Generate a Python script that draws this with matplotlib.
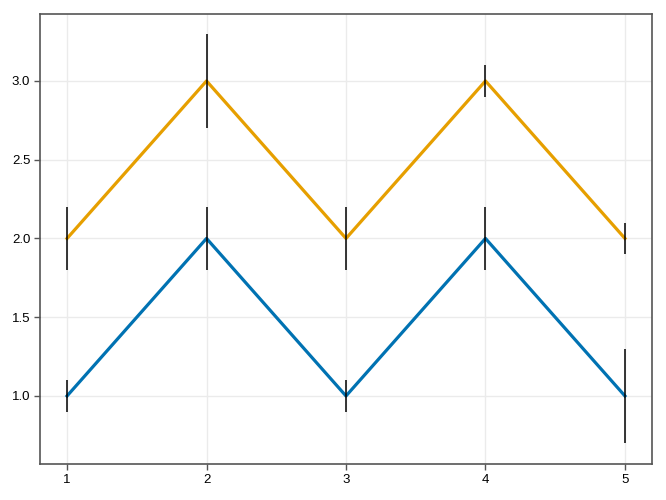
import matplotlib
matplotlib.use("Agg")
import matplotlib.pyplot as plt

x = [1, 2, 3, 4, 5]
y_blue = [1.0, 2.0, 1.0, 2.0, 1.0]
err_blue = [0.1, 0.2, 0.1, 0.2, 0.3]
y_orange = [2.0, 3.0, 2.0, 3.0, 2.0]
err_orange = [0.2, 0.3, 0.2, 0.1, 0.1]
yticks = [1.0, 1.5, 2.0, 2.5, 3.0]
xticks = [1, 2, 3, 4, 5]

plt.rcParams['font.family'] = ['Liberation Sans', 'DejaVu Sans']
fig = plt.figure(figsize=(6.66, 5.0), dpi=100)
ax = fig.add_axes([40/666, 36/500, 612/666, 450/500])

ax.plot(x, y_blue, color='#0072B2', lw=2.3, zorder=2)
ax.plot(x, y_orange, color='#E69F00', lw=2.3, zorder=2)
ax.errorbar(x, y_blue, yerr=err_blue, fmt='none', ecolor='black', elinewidth=1.1, capsize=0, zorder=3)
ax.errorbar(x, y_orange, yerr=err_orange, fmt='none', ecolor='black', elinewidth=1.1, capsize=0, zorder=3)

ax.set_xlim(0.806, 5.194)
ax.set_ylim(0.568, 3.425)
ax.set_xticks(xticks)
ax.set_xticklabels([str(v) for v in xticks])
ax.set_yticks(yticks)
ax.set_yticklabels([f"{v:.1f}" for v in yticks])
ax.grid(True, color='#ebebeb', lw=1)
ax.set_axisbelow(True)
for s in ax.spines.values():
    s.set_color('#555555')
    s.set_linewidth(1.2)
ax.tick_params(direction='out', length=4, width=1, color='#555555', labelsize=9.5, pad=3)

fig.savefig('out.png', dpi=100)
